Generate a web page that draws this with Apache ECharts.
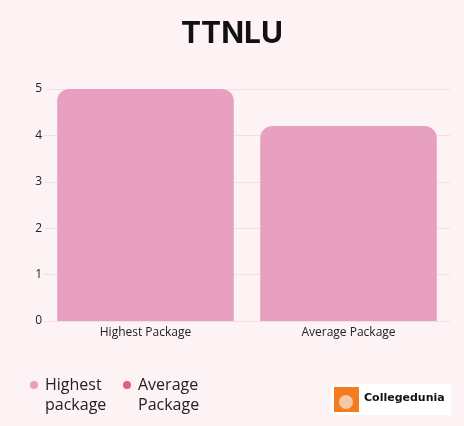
<!DOCTYPE html>
<html><head><meta charset="utf-8">
<script src="https://cdn.jsdelivr.net/npm/echarts@6/dist/echarts.min.js"></script>
<style>html,body{margin:0;padding:0;background:#fdf2f4}#c{width:464px;height:426px}</style>
</head><body><div id="c"></div>
<script>
const categories = ['Highest Package', 'Average Package'];
const values = [5, 4.2];
const legendNames = ['Highest\npackage', 'Average\nPackage'];
const legendColors = ['#e8a0c0', '#e06080'];

const chart = echarts.init(document.getElementById('c'));
const legendItems = [];
legendNames.forEach(function (name, i) {
  const x = 34 + i * 93;
  legendItems.push({ type: 'circle', shape: { cx: x, cy: 385, r: 4 }, style: { fill: legendColors[i] } });
  legendItems.push({ type: 'text', left: x + 11, top: 375,
    style: { text: name, fill: '#222', font: '16px "Open Sans", sans-serif', lineHeight: 20 } });
});
chart.setOption({
  backgroundColor: '#fdf2f4',
  title: { text: 'TTNLU', left: 'center', top: 14,
    textStyle: { fontSize: 30, fontWeight: 'bold', color: '#111', fontFamily: 'Inter, sans-serif' } },
  grid: { left: 44, right: 14, top: 89, bottom: 105 },
  xAxis: { type: 'category', data: categories,
    axisLine: { show: false }, axisTick: { show: false },
    axisLabel: { color: '#222', fontSize: 12, margin: 6, fontFamily: 'Open Sans, sans-serif' } },
  yAxis: { type: 'value', min: 0, max: 5, interval: 1,
    axisLabel: { color: '#222', fontSize: 12, margin: 2, fontFamily: 'Open Sans, sans-serif' },
    splitLine: { lineStyle: { color: '#f0dfe3' } } },
  series: [{ type: 'bar', data: values, barCategoryGap: '13%',
    itemStyle: { color: '#e8a0c0', borderRadius: [12, 12, 0, 0] } }],
  graphic: legendItems.concat([
    { type: 'rect', shape: { x: 331, y: 384, width: 120, height: 31 }, style: { fill: '#fff' } },
    { type: 'rect', shape: { x: 334, y: 387, width: 25, height: 25 }, style: { fill: '#f47b20' } },
    { type: 'circle', shape: { cx: 346, cy: 402, r: 7 }, style: { fill: '#f3c9a8' } },
    { type: 'text', left: 364, top: 393, style: { text: 'Collegedunia', fill: '#111', font: 'bold 11px "DejaVu Sans", sans-serif' } }
  ])
});
</script></body></html>
